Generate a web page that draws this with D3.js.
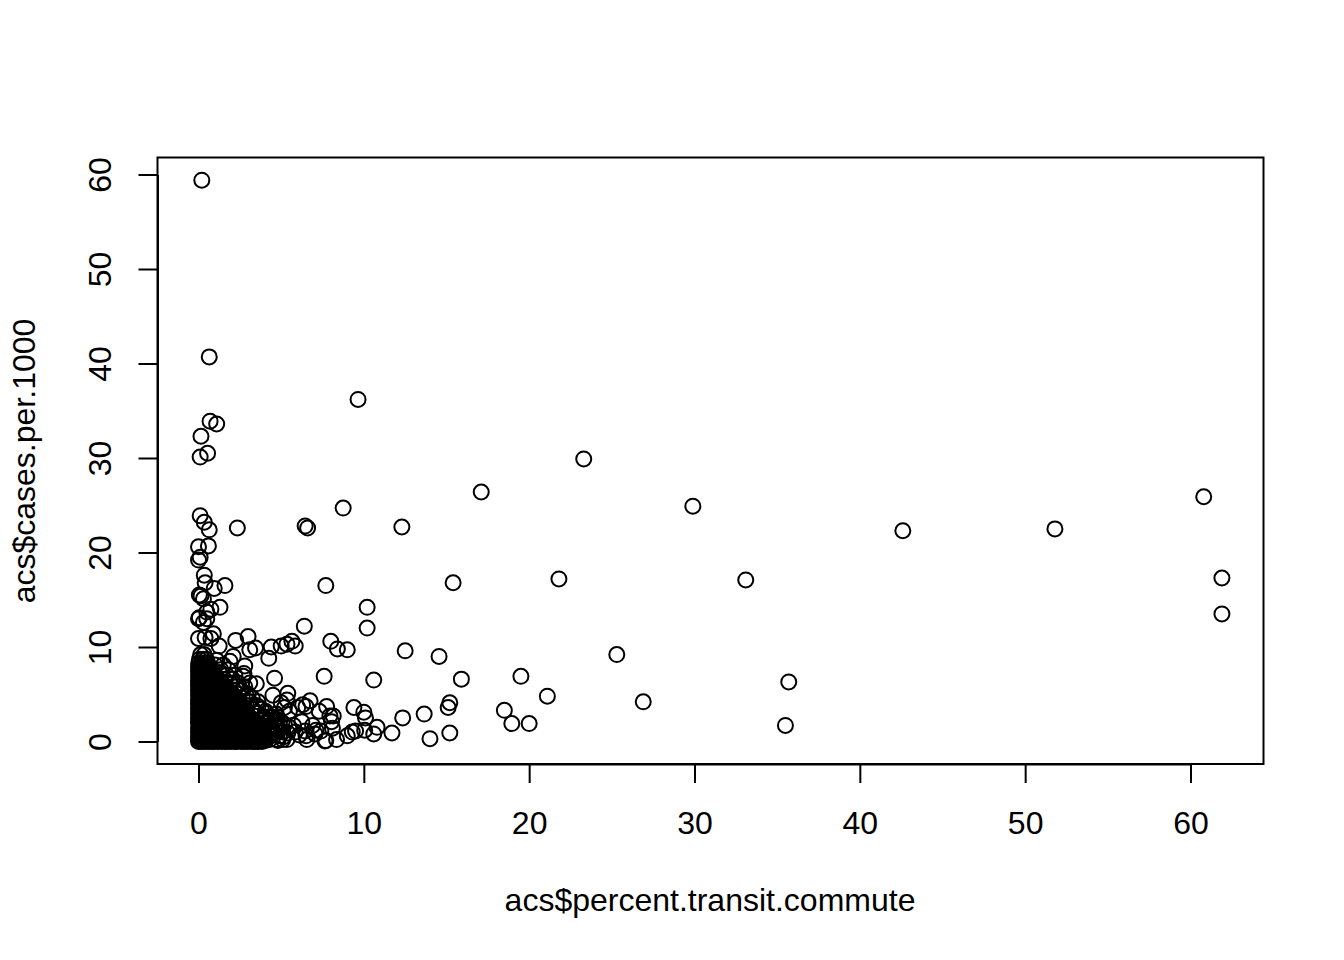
<!DOCTYPE html>
<html>
<head>
<meta charset="utf-8">
<script src="https://cdn.jsdelivr.net/npm/d3@7"></script>
<style>
  html, body { margin: 0; padding: 0; background: #fff; }
  text { font-family: "Liberation Sans", Arial, sans-serif; font-size: 32px; fill: #000; }
</style>
</head>
<body>
<div id="chart"></div>
<script>
// values
const xTicks = [0, 10, 20, 30, 40, 50, 60];
const yTicks = [0, 10, 20, 30, 40, 50, 60];

// the points that can be told apart
const looseTransit = [
  0.2, 0.65, 9.65, 0.7, 1.1, 0.15, 0.1, 0.55, 23.3, 17.1, 60.8, 29.9, 8.75, 0.1, 0.35, 0.65, 2.35, 6.45, 6.6, 12.3,
  42.6, 51.8, 0, 0.6, 0.1, 0, 0.35, 0.4, 1.6, 0.95, 7.7, 15.4, 21.8, 33.1, 61.9, 61.9, 0.05, 0.15, 0.3, 1.3,
  0.75, 0.5, 10.2, 0, 0.05, 0.5, 0.3, 6.4, 10.2, 0.9, 0.4, 0.75, 0, 3, 2.25, 8, 5.65, 5.35, 5, 5.85,
  4.4, 1.25, 3.45, 3.1, 8.4, 9, 12.5, 14.55, 25.3, 4.25, 2.1, 1.9, 19.5, 15.9, 10.6, 7.6, 4.6, 35.7, 21.1, 26.9,
  15.2, 15.1, 18.5, 13.65, 12.35, 18.95, 20, 35.5, 15.2, 14, 11.7, 10.8, 10.6, 10, 10.1, 10.05, 9.4, 9.5, 9.3, 9,
  8.35, 7.65, 8.15, 7.95, 8.05, 7.75, 7.3, 6.75, 6.3, 6, 5.4, 5.35, 5, 4.5, 3.5, 3.1, 2.8, 2.75, 2.7, 2.9,
  3.05, 3.3, 3.6, 4.05, 4.3, 4.15, 4.7, 5.2, 5.5, 5.75, 6.5, 6.9, 7.1, 7.05, 6.45, 6.5, 6.55, 6.25, 5.5, 5.4,
  5.15, 4.85, 4.8, 4.05, 3.85, 3.7, 3.4, 3.95, 4.45, 4.65, 5.85, 6.1, 7.4, 7.7, 8.1, 5.35, 5.05, 4.75, 4.35, 3.75
];
const looseCases = [
  59.4, 40.7, 36.2, 33.9, 33.6, 32.3, 30.1, 30.5, 29.9, 26.4, 25.9, 24.9, 24.7, 23.9, 23.2, 22.4, 22.6, 22.8, 22.6, 22.7,
  22.3, 22.5, 20.6, 20.7, 19.5, 19.2, 17.6, 16.8, 16.5, 16.2, 16.5, 16.8, 17.2, 17.1, 17.3, 13.5, 15.5, 15.4, 15.1, 14.2,
  14, 13.7, 14.2, 13, 13.1, 13, 12.6, 12.2, 12, 11.4, 11, 10.9, 10.9, 11.1, 10.7, 10.6, 10.6, 10.3, 10.1, 10.1,
  10, 10.1, 9.9, 9.7, 9.8, 9.7, 9.6, 9, 9.2, 8.8, 9, 8.5, 6.9, 6.6, 6.5, 6.9, 6.7, 6.3, 4.8, 4.2,
  4.1, 3.6, 3.3, 2.9, 2.5, 1.9, 1.9, 1.7, 0.9, 0.3, 0.9, 1.5, 0.8, 3.1, 2.5, 1.2, 3.6, 1.1, 1, 0.6,
  0.2, 0.05, 2.7, 2.7, 2.1, 3.7, 3.2, 4.3, 3.9, 3.6, 5.1, 4.4, 4.1, 4.9, 6.1, 6.2, 8, 7.2, 6.9, 4.8,
  4.2, 3.4, 3.7, 3.2, 2.6, 1.9, 2.9, 3.6, 3.2, 1.7, 3.7, 1.7, 1.2, 0.8, 1.1, 0.6, 0.2, 2.1, 1.5, 0.9,
  0.5, 1.1, 0.1, 0.1, 0.8, 1.6, 0.5, 2.3, 1.3, 2.4, 1, 0.7, 1.1, 0.1, 1.4, 0.2, 2, 2.6, 2.2, 0.1
];

// rings on the rough edge of the black mass
const fringeTransit = [
  1.1, 1, 1.5, 1.35, 1.8, 1.25, 1.7, 2.2, 1.55, 2.05, 1.9, 2.4, 1.7, 2.3, 2.8, 2.15, 2.6, 2.4, 2.05, 3,
  2.65, 3.25, 2.5, 3.1, 3.6, 2.9, 3.5, 3.25, 3.8, 3.5, 4.1, 3.9, 4.4, 4.2, 4.6, 4.4, 4.9, 5.2, 4.3, 4.8,
  4.5, 5.1, 4.4, 4.9, 4.3, 4.75, 5.1
];
const fringeCases = [
  8.6, 8.1, 8.1, 7.6, 7.6, 7.3, 7, 7, 6.6, 6.6, 6.2, 6.2, 5.8, 5.8, 5.8, 5.4, 5.4, 5, 5, 5,
  4.6, 4.6, 4.2, 4.2, 4.2, 3.8, 3.8, 3.4, 3.4, 3, 3, 2.6, 2.6, 2.2, 2.2, 1.8, 1.8, 1.8, 1.4, 1.4,
  1, 1, 0.6, 0.6, 0.2, 0.2, 0.2
];

// the black mass in the lower left corner, one list of transit values per cases level
const denseLevels = [0, 0.2, 0.45, 0.7, 0.95, 1.2, 1.45, 1.7, 1.95, 2.2, 2.45, 2.7, 2.95, 3.2, 3.45, 3.7,
  3.95, 4.2, 4.45, 4.7, 4.95, 5.2, 5.45, 5.7, 5.95, 6.2, 6.45, 6.7, 6.95, 7.2, 7.45, 7.7, 7.95, 8.3, 8.7, 9.2];
const denseTransit = [
  [0, 0.17, 0.36, 0.58, 0.79, 0.94, 1.16, 1.38, 1.57, 1.74, 1.96, 2.18, 2.33, 2.59, 2.77, 2.98, 3.21, 3.4, 3.62, 3.85],
  [0.02, 0.21, 0.44, 0.63, 0.85, 1.03, 1.24, 1.42, 1.66, 1.83, 2.07, 2.26, 2.47, 2.68, 2.86, 3.08, 3.29, 3.52, 3.73, 3.96],
  [0, 0.12, 0.31, 0.52, 0.71, 0.92, 1.11, 1.33, 1.51, 1.72, 1.94, 2.13, 2.36, 2.54, 2.75, 2.97, 3.16, 3.37, 3.58, 3.81],
  [0.04, 0.24, 0.41, 0.66, 0.83, 1.05, 1.27, 1.46, 1.63, 1.86, 2.04, 2.27, 2.45, 2.66, 2.89, 3.06, 3.28, 3.49, 3.71, 3.92],
  [0, 0.15, 0.34, 0.55, 0.76, 0.97, 1.14, 1.35, 1.56, 1.77, 1.98, 2.16, 2.38, 2.57, 2.79, 2.95, 3.18, 3.39, 3.6, 3.83],
  [0.03, 0.26, 0.47, 0.64, 0.87, 1.06, 1.25, 1.48, 1.67, 1.88, 2.06, 2.29, 2.48, 2.69, 2.87, 3.09, 3.31, 3.5, 3.74],
  [0, 0.13, 0.33, 0.54, 0.73, 0.96, 1.13, 1.36, 1.53, 1.75, 1.97, 2.15, 2.37, 2.56, 2.78, 2.99, 3.17, 3.41, 3.65],
  [0.05, 0.23, 0.42, 0.65, 0.84, 1.04, 1.26, 1.44, 1.65, 1.85, 2.08, 2.25, 2.46, 2.67, 2.88, 3.07, 3.27, 3.53],
  [0, 0.16, 0.37, 0.56, 0.77, 0.95, 1.17, 1.37, 1.58, 1.76, 1.99, 2.17, 2.39, 2.58, 2.76, 3, 3.19, 3.42],
  [0.02, 0.25, 0.43, 0.62, 0.86, 1.07, 1.23, 1.47, 1.64, 1.87, 2.05, 2.24, 2.49, 2.65, 2.85, 3.05, 3.3],
  [0, 0.14, 0.32, 0.53, 0.74, 0.93, 1.15, 1.34, 1.55, 1.73, 1.95, 2.14, 2.35, 2.55, 2.74, 2.96, 3.15],
  [0.04, 0.22, 0.46, 0.67, 0.82, 1.02, 1.28, 1.43, 1.68, 1.84, 2.03, 2.28, 2.44, 2.64, 2.84, 3.03],
  [0, 0.18, 0.35, 0.57, 0.75, 0.98, 1.12, 1.39, 1.54, 1.78, 1.93, 2.19, 2.34, 2.53, 2.73, 2.92],
  [0.03, 0.27, 0.4, 0.61, 0.88, 1.01, 1.29, 1.45, 1.62, 1.89, 2.02, 2.23, 2.43, 2.63, 2.8],
  [0, 0.11, 0.38, 0.51, 0.72, 0.91, 1.18, 1.32, 1.59, 1.71, 1.92, 2.12, 2.32, 2.52, 2.69],
  [0.05, 0.2, 0.48, 0.6, 0.81, 1, 1.22, 1.49, 1.61, 1.82, 2.01, 2.22, 2.42, 2.58],
  [0, 0.19, 0.3, 0.59, 0.78, 0.99, 1.19, 1.31, 1.52, 1.79, 1.91, 2.11, 2.31, 2.46],
  [0.02, 0.28, 0.39, 0.68, 0.8, 1.08, 1.21, 1.41, 1.69, 1.81, 2, 2.2, 2.34],
  [0, 0.1, 0.29, 0.5, 0.7, 0.89, 1.09, 1.3, 1.5, 1.7, 1.9, 2.09, 2.22],
  [0.04, 0.21, 0.4, 0.6, 0.79, 1, 1.2, 1.4, 1.6, 1.8, 1.98, 2.1],
  [0, 0.13, 0.32, 0.51, 0.71, 0.9, 1.1, 1.31, 1.52, 1.71, 1.88, 1.98],
  [0.03, 0.24, 0.43, 0.62, 0.83, 1.02, 1.22, 1.43, 1.61, 1.77, 1.86],
  [0, 0.15, 0.34, 0.54, 0.73, 0.94, 1.13, 1.33, 1.5, 1.67, 1.74],
  [0.05, 0.26, 0.45, 0.64, 0.85, 1.04, 1.24, 1.41, 1.56, 1.62],
  [0, 0.17, 0.36, 0.56, 0.76, 0.96, 1.15, 1.32, 1.45, 1.5],
  [0.02, 0.23, 0.47, 0.66, 0.87, 1.06, 1.23, 1.34, 1.38],
  [0, 0.12, 0.31, 0.52, 0.72, 0.92, 1.11, 1.22, 1.26],
  [0.04, 0.25, 0.42, 0.63, 0.82, 1.01, 1.11, 1.15],
  [0, 0.16, 0.37, 0.55, 0.75, 0.93, 1.03],
  [0.03, 0.22, 0.44, 0.65, 0.84, 0.92],
  [0, 0.14, 0.33, 0.53, 0.74, 0.81],
  [0.05, 0.27, 0.46, 0.62, 0.7],
  [0, 0.18, 0.35, 0.52, 0.6],
  [0.02, 0.21, 0.41, 0.55],
  [0.06, 0.28, 0.47],
  [0.13, 0.34]
];

const transit = looseTransit.concat(fringeTransit, denseTransit.flat());
const cases = looseCases.concat(fringeCases, denseTransit.flatMap((row, i) => row.map(() => denseLevels[i])));

const width = 1344, height = 960;
const box = { left: 157.5, right: 1263.5, top: 157.5, bottom: 764 };

const x = d3.scaleLinear().domain([0, 60]).range([198.5, 1190.5]);
const y = d3.scaleLinear().domain([0, 60]).range([741.5, 174.5]);

const svg = d3.select('#chart').append('svg')
  .attr('width', width)
  .attr('height', height)
  .style('display', 'block');

// points
svg.append('g').selectAll('circle')
  .data(transit.map((t, i) => [t, cases[i]]))
  .join('circle')
  .attr('cx', d => x(d[0]))
  .attr('cy', d => y(d[1]))
  .attr('r', 7.5)
  .attr('fill', 'none')
  .attr('stroke', '#000')
  .attr('stroke-width', 2);

// frame
svg.append('rect')
  .attr('x', box.left)
  .attr('y', box.top)
  .attr('width', box.right - box.left)
  .attr('height', box.bottom - box.top)
  .attr('fill', 'none')
  .attr('stroke', '#000')
  .attr('stroke-width', 2);

// axes
const xAxis = svg.append('g')
  .attr('transform', `translate(0,${box.bottom})`)
  .call(d3.axisBottom(x).tickValues(xTicks).tickSize(19).tickSizeOuter(0).tickFormat(d3.format('d')));

const yAxis = svg.append('g')
  .attr('transform', `translate(${box.left},0)`)
  .call(d3.axisLeft(y).tickValues(yTicks).tickSize(19).tickSizeOuter(0).tickFormat(d3.format('d')));

[xAxis, yAxis].forEach(a => {
  a.attr('font-family', null).attr('font-size', null);
  a.select('.domain').attr('stroke', '#000').attr('stroke-width', 2);
  a.selectAll('.tick line').attr('stroke', '#000').attr('stroke-width', 2);
});

xAxis.selectAll('.tick text')
  .attr('y', 70)
  .attr('dy', null)
  .attr('text-anchor', 'middle');

yAxis.selectAll('.tick text')
  .attr('x', null)
  .attr('dy', null)
  .attr('text-anchor', 'middle')
  .attr('transform', 'translate(-46.5,0) rotate(-90)');

// axis titles
svg.append('text')
  .attr('x', 710)
  .attr('y', 911)
  .attr('text-anchor', 'middle')
  .text('acs$percent.transit.commute');

svg.append('text')
  .attr('transform', 'translate(35,461) rotate(-90)')
  .attr('text-anchor', 'middle')
  .text('acs$cases.per.1000');
</script>
</body>
</html>
